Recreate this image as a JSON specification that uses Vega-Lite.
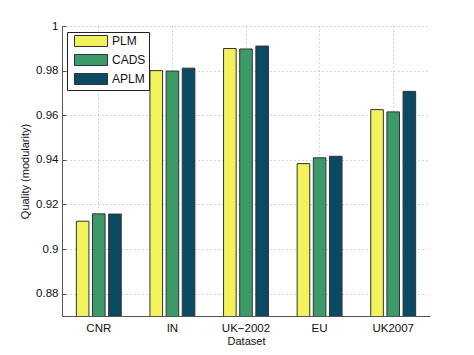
{
  "$schema": "https://vega.github.io/schema/vega-lite/v6.json",
  "autosize": "none",
  "width": 368,
  "height": 290,
  "padding": {"left": 62, "top": 26, "right": 44, "bottom": 39},
  "background": "white",
  "config": {
    "view": {"stroke": null},
    "font": "Liberation Sans",
    "axis": {
      "labelFont": "Liberation Sans",
      "titleFont": "Liberation Sans",
      "labelFontSize": 11.5,
      "titleFontSize": 11,
      "titleFontWeight": "normal",
      "labelColor": "#111",
      "titleColor": "#111",
      "domainColor": "#555",
      "tickColor": "#555",
      "gridColor": "#aaaaaa",
      "gridDash": [1, 3],
      "gridWidth": 1
    }
  },
  "data": {
    "values": [
      {"dataset": "CNR", "method": "PLM", "q": 0.9125},
      {"dataset": "CNR", "method": "CADS", "q": 0.9158},
      {"dataset": "CNR", "method": "APLM", "q": 0.9157},
      {"dataset": "IN", "method": "PLM", "q": 0.9800},
      {"dataset": "IN", "method": "CADS", "q": 0.9798},
      {"dataset": "IN", "method": "APLM", "q": 0.9811},
      {"dataset": "UK\u22122002", "method": "PLM", "q": 0.9899},
      {"dataset": "UK\u22122002", "method": "CADS", "q": 0.9897},
      {"dataset": "UK\u22122002", "method": "APLM", "q": 0.9910},
      {"dataset": "EU", "method": "PLM", "q": 0.9383},
      {"dataset": "EU", "method": "CADS", "q": 0.9409},
      {"dataset": "EU", "method": "APLM", "q": 0.9416},
      {"dataset": "UK2007", "method": "PLM", "q": 0.9625},
      {"dataset": "UK2007", "method": "CADS", "q": 0.9615},
      {"dataset": "UK2007", "method": "APLM", "q": 0.9707}
    ]
  },
  "mark": {"type": "bar", "stroke": "#333333", "strokeWidth": 1, "clip": true},
  "encoding": {
    "x": {
      "field": "dataset",
      "type": "nominal",
      "sort": ["CNR", "IN", "UK\u22122002", "EU", "UK2007"],
      "scale": {"paddingInner": 0.39, "paddingOuter": 0.195},
      "axis": {
        "title": "Dataset",
        "labelAngle": 0,
        "grid": true,
        "bandPosition": 0.5,
        "ticks": false,
        "labelPadding": 6,
        "titlePadding": 2
      }
    },
    "xOffset": {
      "field": "method",
      "type": "nominal",
      "sort": ["PLM", "CADS", "APLM"],
      "scale": {"paddingInner": 0.22}
    },
    "y": {
      "field": "q",
      "type": "quantitative",
      "scale": {"domain": [0.87, 1.0], "zero": false, "nice": false},
      "axis": {
        "title": "Quality (modularity)",
        "values": [0.88, 0.9, 0.92, 0.94, 0.96, 0.98, 1.0],
        "format": "~g",
        "grid": true,
        "tickSize": -4,
        "labelPadding": 8,
        "titlePadding": 5
      }
    },
    "color": {
      "field": "method",
      "type": "nominal",
      "sort": ["PLM", "CADS", "APLM"],
      "scale": {"domain": ["PLM", "CADS", "APLM"], "range": ["#f2f25c", "#3b9a67", "#0b4a63"]},
      "legend": {
        "title": null,
        "orient": "none",
        "legendX": 5,
        "legendY": 6,
        "strokeColor": "#222",
        "fillColor": "white",
        "padding": 3,
        "symbolType": "M-3,-1H3V1H-3Z",
        "symbolSize": 121,
        "symbolOffset": 15,
        "symbolStrokeColor": "#333",
        "symbolStrokeWidth": 1,
        "symbolOpacity": 1,
        "labelFontSize": 12,
        "labelFont": "Liberation Sans",
        "labelColor": "#111",
        "labelOffset": 15,
        "rowPadding": 3
      }
    }
  }
}
